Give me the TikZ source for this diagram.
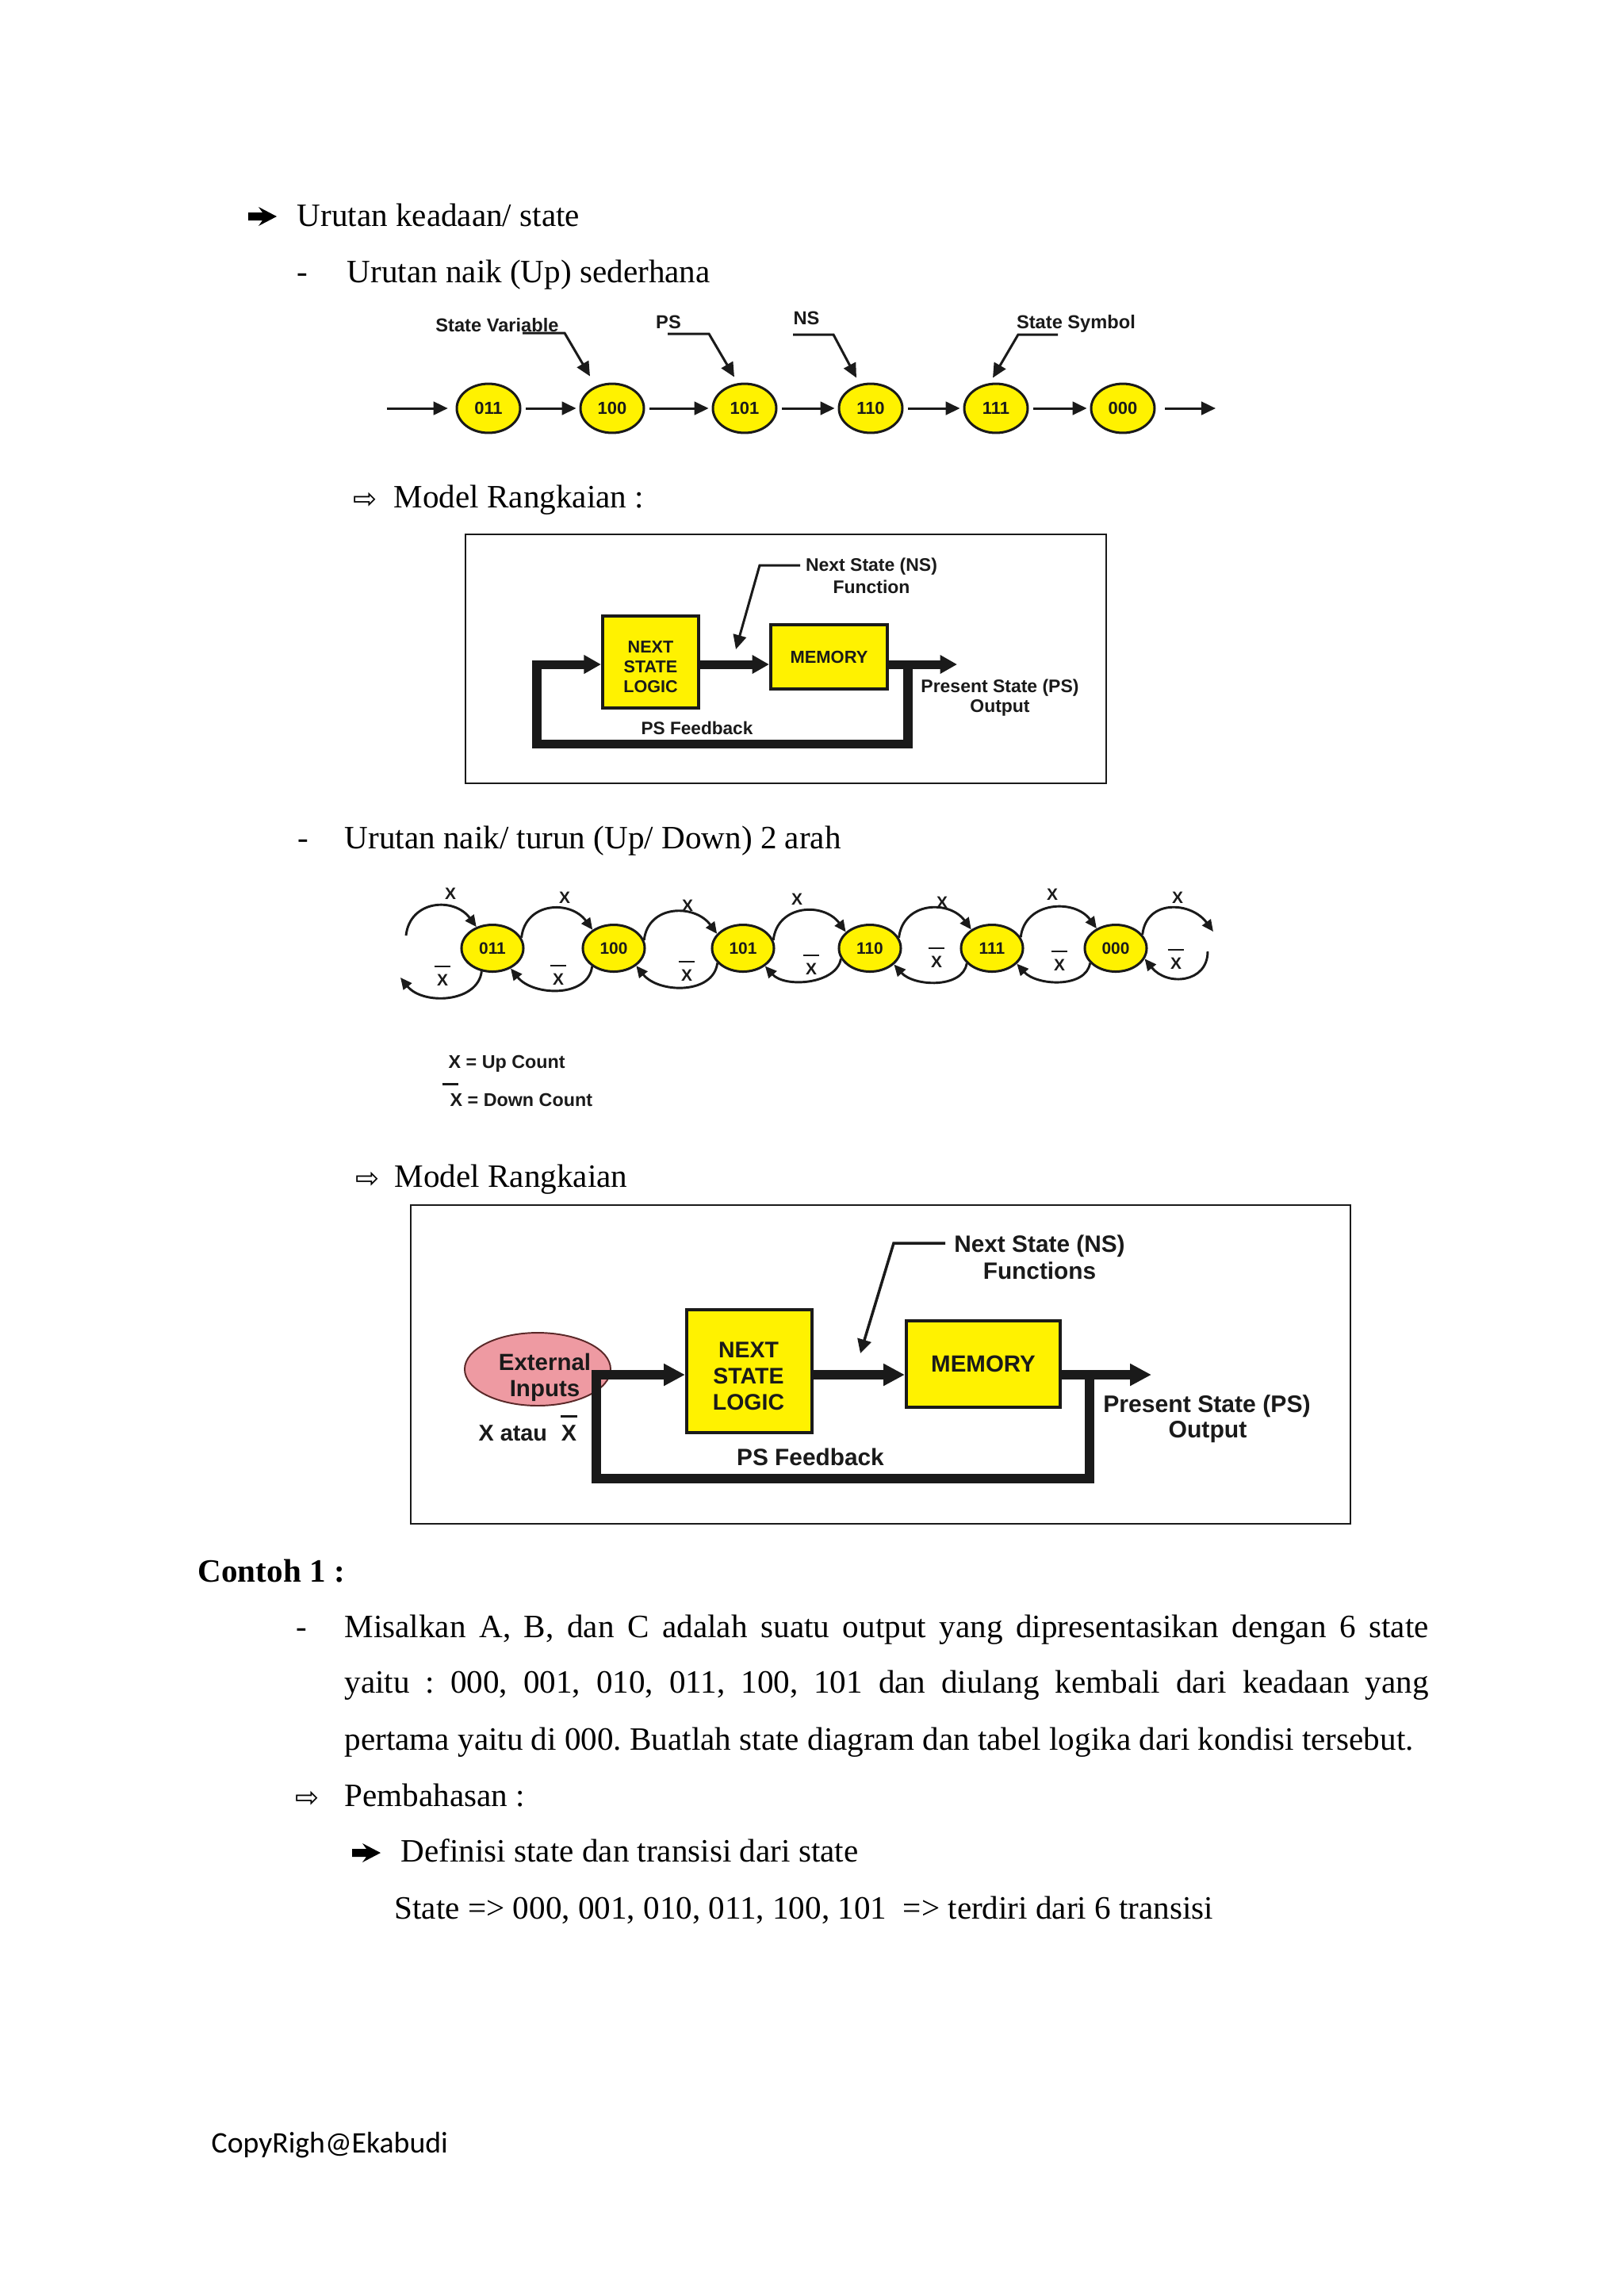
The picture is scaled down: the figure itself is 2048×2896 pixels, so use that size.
\documentclass[tikz,border=0pt]{standalone}
\usepackage{fontspec}
\setmainfont{Liberation Serif}
\newfontfamily\dia{Liberation Sans}
\newfontfamily\symf{DejaVu Sans}
\newfontfamily\carl{Carlito}
\usetikzlibrary{arrows.meta,shapes.geometric,calc}
\definecolor{stateyel}{HTML}{FFF200}
\definecolor{extpink}{HTML}{EE9AA2}
\definecolor{extline}{HTML}{5A2828}
\definecolor{inkc}{HTML}{1A1A1A}
\newcommand{\ovX}[3]{\makebox[0pt][l]{\hspace*{#1}\rule[#2]{#3}{0.11em}}X}
\tikzset{
  body/.style={inner sep=0pt, anchor=base west, font=\fontsize{12pt}{14pt}\selectfont},
  bodyb/.style={body, font=\bfseries\fontsize{12pt}{14pt}\selectfont},
  symb/.style={body, font=\symf\fontsize{#1}{#1}\selectfont},
  dl/.style={inner sep=0pt, anchor=base, text=inkc, font=\dia\bfseries\fontsize{#1}{#1}\selectfont},
  st1/.style={ellipse, draw=inkc, line width=0.31mm, fill=stateyel, minimum width=8.2mm, minimum height=6.35mm, inner sep=0pt, text=inkc, font=\dia\bfseries\fontsize{6.4pt}{6.4pt}\selectfont},
  st2/.style={st1, minimum width=8.0mm, minimum height=6.05mm, font=\dia\bfseries\fontsize{6.1pt}{6.1pt}\selectfont},
  arr1/.style={draw=inkc, line width=0.31mm, -{Triangle[length=1.85mm,width=1.7mm]}},
  arc2/.style={draw=inkc, line width=0.3mm, -{Triangle[length=1.5mm,width=1.35mm]}},
  lead2/.style={draw=inkc, line width=0.36mm, -{Triangle[length=1.8mm,width=1.8mm]}},
  blk/.style={draw=inkc, line width=0.42mm, fill=stateyel, inner sep=0pt},
  fat1/.style={draw=inkc, line width=1.13mm, line join=miter, -{Triangle[length=2.2mm,width=2.3mm]}},
  fat2/.style={draw=inkc, line width=1.23mm, line join=miter, -{Triangle[length=2.75mm,width=2.7mm]}},
  frame/.style={draw=inkc, line width=0.28mm},
  heavyarr/.style={fill=black},
}
\begin{document}
\frenchspacing
\begin{tikzpicture}[x=0.10254mm,y=-0.10254mm]
\fill[white] (0,0) rectangle (2048,2896);
\useasboundingbox (0,0) rectangle (2048,2896);

% ---------- heading lines ----------
\fill[heavyarr, shift={(313,273)}] (0,-5) -- (18,-5) -- (13,-12) -- (36,0) -- (13,12) -- (18,5) -- (0,5) -- cycle;
\node[body] (h1) at (374,285) {Urutan keadaan/ state};
\node[body] (hd1) at (374,356) {-};
\node[body] (h2) at (437,356) {Urutan naik (Up) sederhana};

% ---------- diagram 1: simple up sequence ----------
\node[st1] (s1) at (616,515) {011};
\node[st1] (s2) at (772,515) {100};
\node[st1] (s3) at (939,515) {101};
\node[st1] (s4) at (1098,515) {110};
\node[st1] (s5) at (1256,515) {111};
\node[st1] (s6) at (1416,515) {000};
\coordinate (c1in) at (488,515);
\coordinate (c1out) at (1533,515);
\draw[arr1, shorten >=1.0mm] (c1in) -- (s1);
\draw[arr1, shorten <=0.6mm, shorten >=0.4mm] (s1) -- (s2);
\draw[arr1, shorten <=0.6mm, shorten >=0.4mm] (s2) -- (s3);
\draw[arr1, shorten <=0.6mm, shorten >=0.4mm] (s3) -- (s4);
\draw[arr1, shorten <=0.6mm, shorten >=0.4mm] (s4) -- (s5);
\draw[arr1, shorten <=0.6mm, shorten >=0.4mm] (s5) -- (s6);
\draw[arr1, shorten <=1.2mm] (s6) -- (c1out);

\node[dl=6.9pt] (lsv) at (627,418) {State Variable};
\node[dl=6.9pt] (lps) at (843,414) {PS};
\node[dl=6.9pt] (lns) at (1017,409) {NS};
\node[dl=6.9pt] (lss) at (1357,414) {State Symbol};
\coordinate (lsva) at (659,420);
\coordinate (lpsa) at (842,421);
\coordinate (lnsa) at (1000,422);
\coordinate (lssa) at (1334,422);
\draw[arr1] (lsva) -- (712,420) -- ($(s2.north)+(-28,-8)$);
\draw[arr1] (lpsa) -- (894,421) -- ($(s3.north)+(-13,-7)$);
\draw[arr1] (lnsa) -- (1051,422) -- ($(s4.north)+(-18,-6)$);
\draw[arr1] (lssa) -- (1284,422) -- ($(s5.north)+(-4,-6)$);

% ---------- Model Rangkaian 1 ----------
\node[symb=10.5pt] (m1a) at (445,641) {⇨};
\node[body] (m1) at (496,640) {Model Rangkaian :};

\draw[frame] (587,674) rectangle (1395,988);
\node[blk, minimum width=12.41mm, minimum height=11.89mm] (nsl1) at (820.5,835) {};
\node[dl=6.3pt] (nsl1a) at (820.5,823) {NEXT};
\node[dl=6.3pt] (nsl1b) at (820.5,848) {STATE};
\node[dl=6.3pt] (nsl1c) at (820.5,873) {LOGIC};
\node[blk, minimum width=15.07mm, minimum height=8.31mm] (mem1) at (1045.5,828.5) {};
\node[dl=6.4pt] (mem1t) at (1045.5,836) {MEMORY};
\coordinate (fb1) at (1145,838);
\coordinate (out1) at (1207,838);
\draw[fat1] (fb1) -- (1145,938) -- (677,938) -- (677,838) -- (nsl1.west |- fb1);
\draw[fat1] (nsl1.east |- fb1) -- (mem1.west |- fb1);
\draw[fat1] (mem1.east |- fb1) -- (out1);
\coordinate (ns1a) at (1009,713);
\draw[arr1] (ns1a) -- (958,713) -- (928,819);
\node[dl=6.7pt] (ns1t) at (1099,720) {Next State (NS)};
\node[dl=6.7pt] (ns1u) at (1099,748) {Function};
\node[dl=6.7pt] (ps1t) at (1261,873) {Present State (PS)};
\node[dl=6.7pt] (ps1u) at (1261,898) {Output};
\node[dl=6.6pt] (fb1t) at (879,926) {PS Feedback};

% ---------- up / down ----------
\node[body] (hd2) at (375,1070) {-};
\node[body] (h3) at (434,1070) {Urutan naik/ turun (Up/ Down) 2 arah};

\node[st2] (u1) at (621,1196) {011};
\node[st2] (u2) at (774,1196) {100};
\node[st2] (u3) at (937,1196) {101};
\node[st2] (u4) at (1097,1196) {110};
\node[st2] (u5) at (1251,1196) {111};
\node[st2] (u6) at (1407,1196) {000};
\coordinate (ua) at (512,1180);
\coordinate (ub) at (1530,1175);
\coordinate (la) at (1523,1200);
\coordinate (lb) at (505,1233);
% up (X) arcs
\draw[arc2] (ua) .. controls +(5,-45) and +(-28,-38) .. (u1.127);
\draw[arc2] (u1.20) .. controls +(5,-45) and +(-28,-38) .. (u2.139);
\draw[arc2] (u2.15) .. controls +(5,-45) and +(-28,-38) .. (u3.151);
\draw[arc2] (u3.15) .. controls +(5,-45) and +(-28,-38) .. (u4.146);
\draw[arc2] (u4.20) .. controls +(5,-45) and +(-28,-38) .. (u5.138);
\draw[arc2] (u5.21) .. controls +(5,-45) and +(-28,-38) .. (u6.134);
\draw[arc2] (u6.27) .. controls +(5,-45) and +(-28,-38) .. (ub);
% down (X bar) arcs
\draw[arc2] (u1.245) .. controls +(-5,40) and +(28,35) .. (lb);
\draw[arc2] (u2.220) .. controls +(-5,40) and +(28,35) .. (u1.-48);
\draw[arc2] (u3.210) .. controls +(-5,40) and +(28,35) .. (u2.-38);
\draw[arc2] (u4.200) .. controls +(-5,32) and +(25,28) .. (u3.-39);
\draw[arc2] (u5.211) .. controls +(-5,32) and +(25,28) .. (u4.-34);
\draw[arc2] (u6.210) .. controls +(-5,32) and +(25,28) .. (u5.-32);
\draw[arc2] (la) .. controls +(0,40) and +(28,35) .. (u6.-20);
% labels
\node[dl=6.1pt] (x1) at (568,1134.5) {X};
\node[dl=6.1pt] (x2) at (712,1139.5) {X};
\node[dl=6.1pt] (x3) at (867,1149.5) {X};
\node[dl=6.1pt] (x4) at (1005,1141.5) {X};
\node[dl=6.1pt] (x5) at (1188,1145.5) {X};
\node[dl=6.1pt] (x6) at (1327,1135.5) {X};
\node[dl=6.1pt] (x7) at (1485,1139.5) {X};
\node[dl=6.1pt] (y1) at (558,1243.5) {\ovX{-0.16em}{1.13em}{0.95em}};
\node[dl=6.1pt] (y2) at (704,1242.5) {\ovX{-0.16em}{1.13em}{0.95em}};
\node[dl=6.1pt] (y3) at (866,1237.5) {\ovX{-0.16em}{1.13em}{0.95em}};
\node[dl=6.1pt] (y4) at (1023,1229.5) {\ovX{-0.16em}{1.13em}{0.95em}};
\node[dl=6.1pt] (y5) at (1181,1220.5) {\ovX{-0.16em}{1.13em}{0.95em}};
\node[dl=6.1pt] (y6) at (1336,1224.5) {\ovX{-0.16em}{1.13em}{0.95em}};
\node[dl=6.1pt] (y7) at (1483,1222.5) {\ovX{-0.16em}{1.13em}{0.95em}};

\node[dl=6.8pt, anchor=base west] (lg1) at (565,1347) {X = Up Count};
\node[dl=6.8pt, anchor=base west] (lg2) at (567,1395) {\ovX{-0.43em}{1.12em}{0.86em} = Down Count};

% ---------- Model Rangkaian 2 ----------
\node[symb=10.5pt] (m2a) at (448,1498) {⇨};
\node[body] (m2) at (497,1497) {Model Rangkaian};

\draw[frame] (518,1520) rectangle (1703,1922);
\node[ellipse, draw=extline, line width=0.2mm, fill=extpink, minimum width=18.87mm, minimum height=9.43mm, inner sep=0pt] (ext) at (678,1727) {};
\node[dl=8.6pt] (ext1) at (687,1728) {External};
\node[dl=8.6pt] (ext2) at (687,1761) {Inputs};
\node[dl=8.4pt, anchor=base west] (xin) at (603,1817) {X atau\hspace{0.62em}\ovX{-0.03em}{1.0em}{0.73em}};
\node[blk, minimum width=16.2mm, minimum height=15.89mm] (nsl2) at (945,1729.5) {};
\node[dl=8.3pt] (nsl2a) at (944,1712) {NEXT};
\node[dl=8.3pt] (nsl2b) at (944,1745) {STATE};
\node[dl=8.3pt] (nsl2c) at (944,1778) {LOGIC};
\node[blk, minimum width=19.89mm, minimum height=11.18mm] (mem2) at (1240,1720.5) {};
\node[dl=8.6pt] (mem2t) at (1240,1730) {MEMORY};
\coordinate (fb2) at (1374,1734);
\coordinate (out2) at (1452,1734);
\draw[fat2] (fb2) -- (1374,1865) -- (752,1865) -- (752,1734) -- (nsl2.west |- fb2);
\draw[fat2] (nsl2.east |- fb2) -- (mem2.west |- fb2);
\draw[fat2] (mem2.east |- fb2) -- (out2);
\coordinate (ns2a) at (1192,1568);
\draw[lead2] (ns2a) -- (1127,1568) -- (1085,1707);
\node[dl=8.7pt] (ns2t) at (1311,1579) {Next State (NS)};
\node[dl=8.7pt] (ns2u) at (1311,1613) {Functions};
\node[dl=8.8pt] (ps2t) at (1522,1781) {Present State (PS)};
\node[dl=8.8pt] (ps2u) at (1523,1813) {Output};
\node[dl=8.7pt] (fb2t) at (1022,1848) {PS Feedback};

% ---------- Contoh 1 ----------
\node[bodyb] (c1) at (249,1995) {Contoh 1 :};
\node[body] (hd3) at (373,2065) {-};
\node[body] (p1) at (434,2065) {\makebox[140.17mm][s]{Misalkan A, B, dan C adalah suatu output yang dipresentasikan dengan 6 state}};
\node[body] (p2) at (434,2135) {\makebox[140.17mm][s]{yaitu : 000, 001, 010, 011, 100, 101 dan diulang kembali dari keadaan yang}};
\node[body] (p3) at (434,2207) {pertama yaitu di 000. Buatlah state diagram dan tabel logika dari kondisi tersebut.};
\node[symb=10.5pt] (pba) at (372,2279) {⇨};
\node[body] (pb) at (434,2278) {Pembahasan :};
\fill[heavyarr, shift={(444,2337)}] (0,-5) -- (18,-5) -- (13,-12) -- (36,0) -- (13,12) -- (18,5) -- (0,5) -- cycle;
\node[body] (df) at (505,2348) {Definisi state dan transisi dari state};
\node[body] (stl) at (497,2420) {State => 000, 001, 010, 011, 100, 101\ \ => terdiri dari 6 transisi};

\node[body, font=\carl\fontsize{11pt}{13pt}\selectfont] (cp) at (266,2715) {CopyRigh@Ekabudi};
\end{tikzpicture}
\end{document}
